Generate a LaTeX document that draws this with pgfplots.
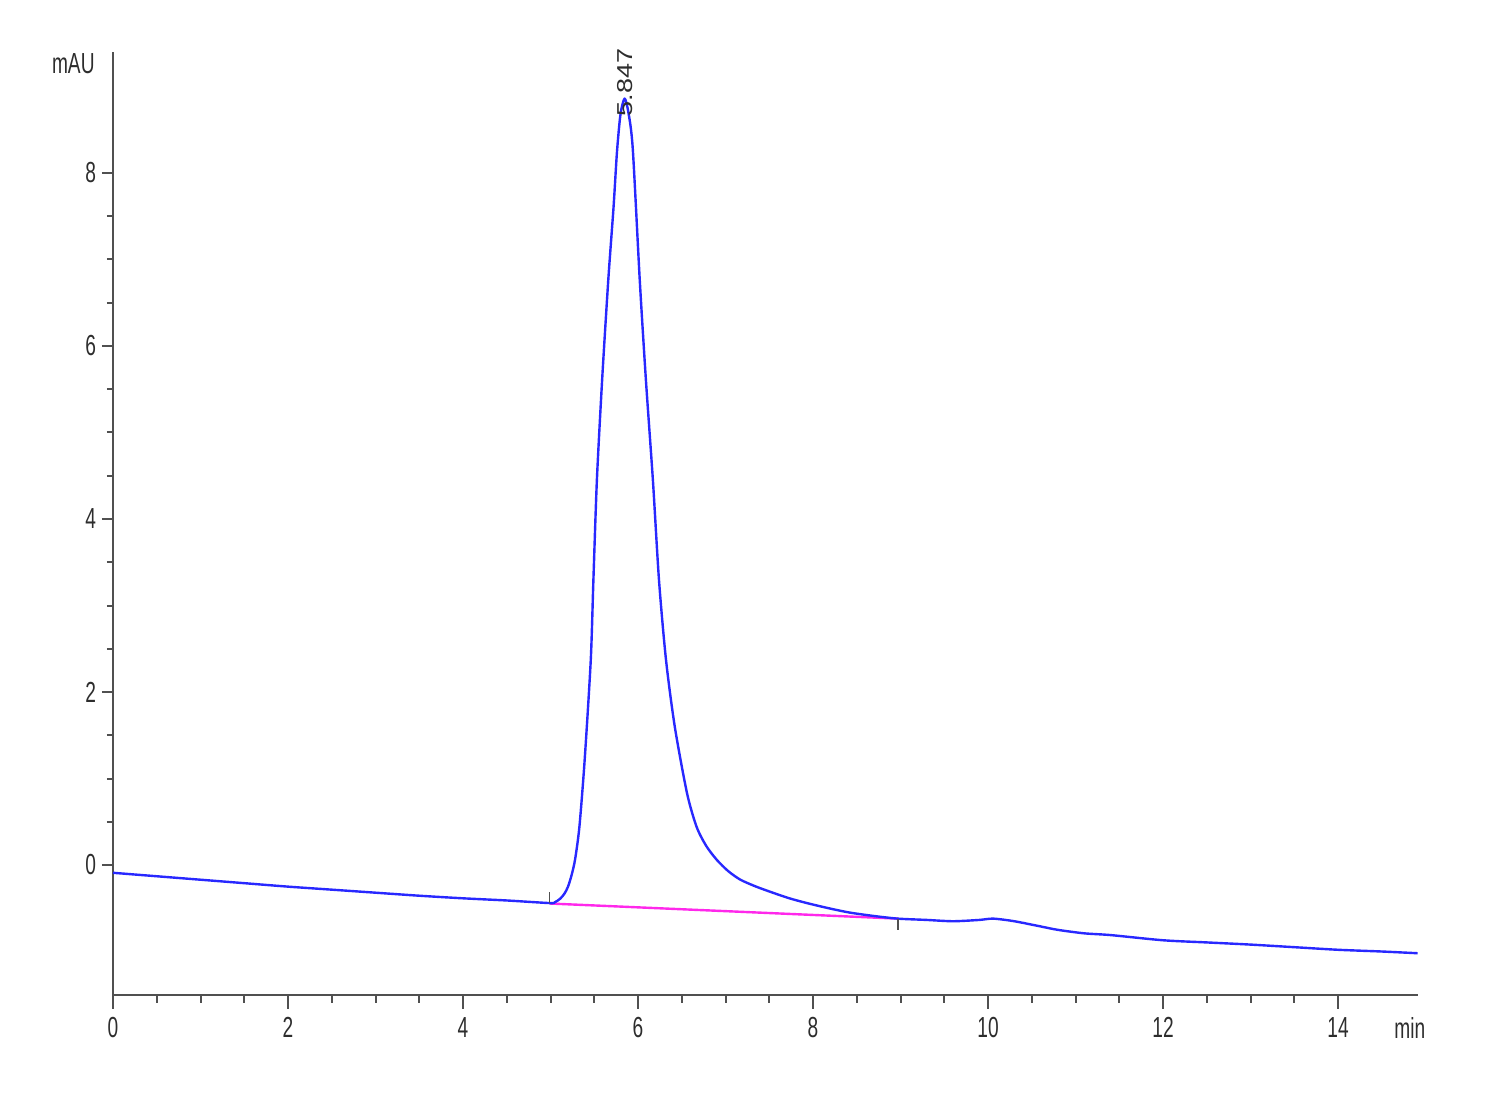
\documentclass[border=0pt]{standalone}
\usepackage{fontspec}
\setmainfont{Liberation Sans}
\newfontfamily\tickfont[FakeStretch=0.66]{Liberation Sans}
\usepackage{pgfplots}
\usepackage{graphicx}
\pgfplotsset{compat=1.18}
\definecolor{curveblue}{RGB}{40,40,255}
\definecolor{basepink}{RGB}{255,40,235}
\definecolor{axgray}{RGB}{80,80,80}
\definecolor{txtgray}{RGB}{45,45,45}
\begin{document}
\begin{tikzpicture}
\begin{axis}[
  x=43.75pt, y=43.25pt,
  xmin=0, xmax=14.91, ymin=-1.5, ymax=9.4,
  axis x line*=bottom, axis y line*=left,
  axis line style={axgray, line width=1.1pt},
  xtick={0,2,...,14}, ytick={0,2,4,6,8},
  minor x tick num=3, minor y tick num=3,
  tick align=outside,
  tick style={axgray, line width=1pt},
  xtick style={/pgfplots/major tick length=7pt, /pgfplots/minor tick length=4pt},
  ytick style={/pgfplots/major tick length=5.5pt, /pgfplots/minor tick length=3pt},
  /pgf/number format/assume math mode=true,
  ticklabel style={font=\tickfont\fontsize{14.5}{17}\selectfont, text=txtgray, inner sep=0pt},
  xticklabel style={anchor=north, yshift=-7pt},
  yticklabel style={anchor=east, xshift=-4pt},
  clip=false,
]
\addplot[basepink, line width=1.2pt] coordinates {(4.99,-0.445) (8.97,-0.62)};
\addplot[curveblue, line width=1.2pt, line join=round, smooth, tension=0.45] coordinates {
(0.00,-0.09) (0.5,-0.13) (1.0,-0.17) (1.5,-0.21) (2.0,-0.25) (2.5,-0.285)
(3.0,-0.32) (3.5,-0.355) (4.0,-0.385) (4.5,-0.41) (4.99,-0.44)
(5.05,-0.43) (5.11,-0.39) (5.16,-0.33) (5.20,-0.25) (5.24,-0.12)
(5.28,0.06) (5.33,0.44) (5.39,1.21) (5.46,2.37) (5.49,3.29) (5.53,4.45)
(5.59,5.61) (5.66,6.76) (5.72,7.60) (5.76,8.25) (5.80,8.68) (5.847,8.86)
(5.89,8.70) (5.94,8.28) (6.02,6.76) (6.09,5.61) (6.17,4.45) (6.24,3.29)
(6.32,2.37) (6.42,1.60) (6.56,0.83) (6.67,0.44) (6.78,0.22) (6.90,0.06)
(7.03,-0.07) (7.17,-0.17) (7.35,-0.25) (7.54,-0.32) (7.73,-0.385)
(7.93,-0.44) (8.18,-0.50) (8.42,-0.55) (8.70,-0.59) (8.97,-0.62)
(9.3,-0.635) (9.6,-0.65) (9.9,-0.635) (10.06,-0.62) (10.3,-0.65)
(10.6,-0.71) (10.8,-0.75) (11.1,-0.79) (11.4,-0.81) (12.0,-0.87)
(12.5,-0.895) (13.0,-0.92) (13.5,-0.95) (14.0,-0.98) (14.5,-1.00) (14.91,-1.02)
};
\addplot[axgray, line width=0.8pt] coordinates {(4.99,-0.44) (4.99,-0.31)};
\addplot[axgray, line width=0.8pt] coordinates {(8.97,-0.62) (8.97,-0.75)};
\node[rotate=90, anchor=west, inner sep=0pt, text=txtgray, font=\fontsize{13.5}{16}\selectfont] at (axis cs:5.847,8.65) {\scalebox{1}[0.8]{5.847}};
\node[anchor=east, inner sep=0pt, text=txtgray, font=\tickfont\fontsize{14.5}{17}\selectfont] at (axis cs:-0.206,9.26) {mAU};
\node[anchor=base west, inner sep=0pt, text=txtgray, font=\tickfont\fontsize{14.5}{17}\selectfont] at (axis cs:14.64,-2.0) {min};
\coordinate (tl) at (axis cs:-1.2914,10.0);
\coordinate (br) at (axis cs:15.851,-2.7168);
\end{axis}
\pgfresetboundingbox
\useasboundingbox (tl) rectangle (br);
\end{tikzpicture}
\end{document}
